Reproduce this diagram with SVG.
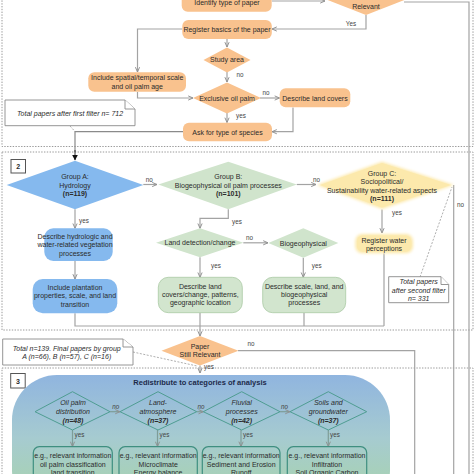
<svg xmlns="http://www.w3.org/2000/svg" width="474" height="474" viewBox="0 0 474 474">
<style>
text{font-family:"Liberation Sans",Arial,sans-serif;font-size:7px;fill:#2b2b2b;text-anchor:middle}
.lbl{font-size:6.3px;fill:#444}
.it{font-style:italic}
.b{font-weight:bold}
.sec{fill:none;stroke:#9a9a9a;stroke-width:1;stroke-dasharray:1.4 1.4}
.ln{fill:none;stroke:#a3a3a3;stroke-width:1.2}
.arr{marker-end:url(#ah)}
.org{fill:#f9c28e}
.blu{fill:#85b9ee}
.grn{fill:#d2e5ce;stroke:#a9c9a3;stroke-width:0.8}
.gd{fill:#d0e4cc}
.ylw{fill:#fce9ac}
.note{fill:#fff;stroke:#8a8a8a;stroke-width:0.9}
.dash{fill:none;stroke:#9a9a9a;stroke-width:0.8;stroke-dasharray:2 1.5}
.s3d{fill:none;stroke:#4f9d92;stroke-width:1}
.s3b{fill:none;stroke:#3f8f80;stroke-width:1.2}
</style>
<defs>
<marker id="ah" viewBox="0 0 10 10" refX="9" refY="5" markerWidth="6" markerHeight="6" markerUnits="userSpaceOnUse" orient="auto"><path d="M1,1.5 L9,5 L1,8.5" fill="none" stroke="#8f8f8f" stroke-width="1.6"/></marker>
<marker id="ahb" viewBox="0 0 10 10" refX="9" refY="5" markerWidth="6" markerHeight="6" markerUnits="userSpaceOnUse" orient="auto"><path d="M0,0 L10,5 L0,10 z" fill="#111"/></marker>
<linearGradient id="g3" x1="0" y1="0" x2="0" y2="1">
<stop offset="0" stop-color="#90b5df"/>
<stop offset="0.45" stop-color="#a6cbd0"/>
<stop offset="1" stop-color="#a8d6a2"/>
</linearGradient>
<filter id="glow" x="-20%" y="-30%" width="140%" height="160%"><feGaussianBlur stdDeviation="1.6"/></filter>
</defs>

<g id="sections">
<rect class="sec" x="2" y="-10" width="471" height="156.5"/>
<rect class="sec" x="2" y="152" width="471" height="178"/>
<rect class="sec" x="2" y="368" width="471" height="120"/>
<rect x="11" y="159.5" width="14.5" height="13.5" fill="#fff" stroke="#555" stroke-width="1"/>
<text x="18.3" y="168.6" class="b">2</text>
<rect x="10.7" y="373.5" width="14.5" height="14.5" fill="#fff" stroke="#555" stroke-width="1"/>
<text x="18" y="383.5" class="b">3</text>
</g>

<g id="section3-bg">
<rect x="12" y="375" width="378" height="140" rx="45" ry="45" fill="url(#g3)"/>
<text x="200" y="384.5" class="b" style="font-size:7.5px;fill:#1d2a4a">Redistribute to categories of analysis</text>
</g>

<g id="connectors">
<polyline class="ln arr" points="272,1 325,1"/>
<polyline class="ln" points="404,2 469,2 469,474"/>
<polyline class="ln arr" points="366,15 366,29 272,29"/>
<polyline class="ln arr" points="227,39 227,47"/>
<polyline class="ln arr" points="182,29 137.5,29 137.5,72"/>
<polyline class="ln arr" points="227,72 227,82"/>
<polyline class="ln arr" points="137.5,92 137.5,98 193,98"/>
<polyline class="ln arr" points="260,98 279.5,98"/>
<polyline class="ln arr" points="293,107.5 293,131.7 272,131.7"/>
<polyline class="ln arr" points="227,113 227,122.5"/>
<polyline class="ln" points="183,131.7 75,131.7 75,152" style="stroke:#8a8a8a"/>
<line x1="75" y1="150" x2="75" y2="160" stroke="#333" stroke-width="1" marker-end="url(#ahb)"/>
<polyline class="ln arr" points="143.3,184.5 157,184.5"/>
<polyline class="ln arr" points="296.7,184.5 316,184.5"/>
<polyline class="ln" points="453.7,185 453.7,474"/>
<polyline class="ln arr" points="75,209.3 75,228.3"/>
<polyline class="ln arr" points="382,209.5 382,233"/>
<polyline class="ln arr" points="228.3,209.3 228.3,218.3 200,218.3 200,228.3"/>
<polyline class="ln arr" points="243.3,242.8 268,242.8"/>
<polyline class="ln arr" points="75,261 75,279"/>
<polyline class="ln arr" points="200,257.3 200,277.3"/>
<polyline class="ln arr" points="303.3,257.7 303.3,277.3"/>
<polyline class="ln" points="75,313.3 75,326 384,326"/>
<polyline class="ln" points="304,312.7 304,326"/>
<polyline class="ln" points="384,253.3 384,326"/>
<polyline class="ln arr" points="200,312.7 200,336"/>
<polyline class="ln" points="238,350.7 414.7,350.7 414.7,474"/>
<polyline class="ln arr" points="200,365.5 200,373"/>
<polyline class="ln arr" points="110,411.7 120,411.7" style="stroke:#7e9c98"/>
<polyline class="ln arr" points="196.7,411.7 203.3,411.7" style="stroke:#7e9c98"/>
<polyline class="ln arr" points="280,411.7 290,411.7" style="stroke:#7e9c98"/>
<polyline class="ln arr" points="72.5,430 72.5,446.5" style="stroke:#7e9c98"/>
<polyline class="ln arr" points="157.5,430 157.5,446.5" style="stroke:#7e9c98"/>
<polyline class="ln arr" points="241,430 241,446.5" style="stroke:#7e9c98"/>
<polyline class="ln arr" points="328.3,430 328.3,446.5" style="stroke:#7e9c98"/>
<line class="dash" x1="70" y1="126" x2="75" y2="131.5"/>
<line class="dash" x1="420" y1="277" x2="452" y2="187"/>
<line class="dash" x1="133" y1="352" x2="197" y2="366"/>
<text x="351" y="25.6" class="lbl">Yes</text>
<text x="240" y="77.3" class="lbl">no</text>
<text x="266" y="94.5" class="lbl">no</text>
<text x="241" y="117.5" class="lbl">yes</text>
<text x="149.3" y="182" class="lbl">no</text>
<text x="316.5" y="182" class="lbl">no</text>
<text x="460.5" y="206.5" class="lbl">no</text>
<text x="84" y="222.5" class="lbl">yes</text>
<text x="237" y="224" class="lbl">yes</text>
<text x="397" y="215" class="lbl">yes</text>
<text x="249.5" y="239.6" class="lbl">no</text>
<text x="216" y="268" class="lbl">yes</text>
<text x="316.7" y="268" class="lbl">yes</text>
<text x="251" y="345.5" class="lbl">no</text>
<text x="209" y="368.8" class="lbl">yes</text>
<text x="115.7" y="409" class="lbl it">no</text>
<text x="201" y="409" class="lbl it">no</text>
<text x="284.5" y="409" class="lbl it">no</text>
<text x="79.5" y="436.8" class="lbl">yes</text>
<text x="164.5" y="436.8" class="lbl">yes</text>
<text x="248" y="436.8" class="lbl">yes</text>
<text x="335" y="436.8" class="lbl">yes</text>
</g>

<g id="identify">
<rect class="org" x="181.7" y="-14" width="90" height="25.7" rx="6"/>
<text x="227" y="5">Identify type of paper</text>
</g>
<g id="paper-relevant">
<polygon class="org" points="366,-35 430,-10 366,15 302,-10"/>
<text x="366" y="8.5">Relevant</text>
</g>
<g id="register-basics">
<rect class="org" x="182.3" y="20" width="89.5" height="19" rx="6"/>
<text x="227" y="32">Register basics of the paper</text>
</g>
<g id="study-area">
<polygon class="org" points="227,47.5 250.5,60 227,72.5 203.5,60"/>
<text x="227" y="62">Study area</text>
</g>
<g id="include-spatial">
<rect class="org" x="88.3" y="72.3" width="97.7" height="19.4" rx="6"/>
<text x="137.2" y="80">Include spatial/temporal scale</text>
<text x="137.2" y="88.5">and oil palm age</text>
</g>
<g id="exclusive">
<polygon class="org" points="227,82.5 261,98 227,113.5 193,98"/>
<text x="227" y="100.5">Exclusive oil palm</text>
</g>
<g id="describe-land-covers">
<rect class="org" x="279.7" y="88.3" width="70.6" height="19" rx="6"/>
<text x="315" y="100.5">Describe land covers</text>
</g>
<g id="ask-species">
<rect class="org" x="183" y="122.7" width="89" height="18.5" rx="6"/>
<text x="227.5" y="134.5">Ask for type of species</text>
</g>
<g id="note-712">
<path class="note" d="M5,100 H125 L135,109 V125.7 H5 Z"/>
<path class="note" d="M125,100 V109 H135" fill="none"/>
<text x="70" y="115.5" class="it">Total papers after first filter  n= 712</text>
</g>

<g id="group-a">
<polygon class="blu" points="75,160.7 143.3,185 75,209.3 6.7,185"/>
<text x="75" y="179">Group A:</text>
<text x="75" y="187.5">Hydrology</text>
<text x="75" y="196" class="b">(n=119)</text>
</g>
<g id="group-b">
<polygon class="gd" points="228.3,161.7 296.7,184.5 228.3,209.3 158.3,184.5"/>
<text x="228.3" y="179">Group B:</text>
<text x="228.3" y="187.5">Biogeophysical oil palm processes</text>
<text x="228.3" y="196" class="b">(n=101)</text>
</g>
<g id="group-c">
<polygon class="ylw" points="382,161.7 454,185 382,209 317,185" filter="url(#glow)"/>
<polygon class="ylw" points="382,163 451,185 382,207.5 320,185"/>
<text x="382" y="175.8">Group C:</text>
<text x="382" y="184.2">Sociopolitical/</text>
<text x="382" y="192.5">Sustainability water-related aspects</text>
<text x="382" y="200.5" class="b">(n=111)</text>
</g>
<g id="describe-hydrologic">
<rect class="blu" x="44.3" y="228.3" width="68.4" height="32.7" rx="9"/>
<text x="75" y="238.5">Describe hydrologic and</text>
<text x="75" y="247">water-related vegetation</text>
<text x="75" y="255.5">processes</text>
</g>
<g id="include-plantation">
<rect class="blu" x="32.7" y="279" width="84.6" height="34.3" rx="10"/>
<text x="75" y="289.8">Include plantation</text>
<text x="75" y="298.3">properties, scale, and land</text>
<text x="75" y="307">transition</text>
</g>
<g id="land-detection">
<polygon class="gd" points="200,228.3 243.3,242.8 200,257.3 156,242.8"/>
<text x="200" y="245.2">Land detection/change</text>
</g>
<g id="biogeophysical">
<polygon class="gd" points="303.3,228.3 338.3,243 303.3,257.7 268.3,243"/>
<text x="303.3" y="245.5">Biogeophysical</text>
</g>
<g id="describe-land-change">
<rect class="grn" x="158.3" y="277.3" width="84" height="35.4" rx="10"/>
<text x="200.3" y="288.5">Describe land</text>
<text x="200.3" y="297">covers/change, patterns,</text>
<text x="200.3" y="305.4">geographic location</text>
</g>
<g id="describe-scale">
<rect class="grn" x="262.7" y="277.3" width="83" height="35.4" rx="10"/>
<text x="304.2" y="288.5">Describe scale, land, and</text>
<text x="304.2" y="297">biogeophysical</text>
<text x="304.2" y="305.4">processes</text>
</g>
<g id="register-water">
<rect class="ylw" x="355.3" y="234" width="57.7" height="19.3" rx="7" filter="url(#glow)"/>
<rect class="ylw" x="357" y="235.5" width="54.3" height="16.3" rx="6"/>
<text x="384" y="242.5">Register water</text>
<text x="384" y="251">perceptions</text>
</g>
<g id="note-331">
<path class="note" d="M388.7,276.7 H441 L448.7,284.5 V302.7 H388.7 Z"/>
<path class="note" d="M441,276.7 V284.5 H448.7" fill="none"/>
<text x="418.7" y="284" class="it">Total papers</text>
<text x="418.7" y="292.5" class="it">after second filter</text>
<text x="418.7" y="300.8" class="it">n= 331</text>
</g>

<g id="paper-still-relevant">
<polygon class="org" points="200,336 238.5,350.7 200,365.5 161.5,350.7"/>
<text x="200" y="348.5">Paper</text>
<text x="200" y="357">Still Relevant</text>
</g>
<g id="note-139">
<path class="note" d="M2.7,339 H123 L133,347 V365 H2.7 Z"/>
<path class="note" d="M123,339 V347 H133" fill="none"/>
<text x="66.7" y="350.8" class="it">Total n=139. Final papers by group</text>
<text x="66.7" y="359.2" class="it">A (n=66), B (n=57), C (n=16)</text>
</g>

<g id="oil-palm-distribution">
<polygon class="s3d" points="72.5,391.7 110,411.7 72.5,430 35,411.7"/>
<text x="73" y="405.2" class="it">Oil palm</text>
<text x="73" y="413.8" class="it">distribution</text>
<text x="73" y="422.5" class="it b">(n=48)</text>
</g>
<g id="land-atmosphere">
<polygon class="s3d" points="158,391.7 196.7,411.7 158,430 120,411.7"/>
<text x="158" y="405.2" class="it">Land-</text>
<text x="158" y="413.8" class="it">atmosphere</text>
<text x="158" y="422.5" class="it b">(n=37)</text>
</g>
<g id="fluvial">
<polygon class="s3d" points="241.7,391.7 280,411.7 241.7,430 203.3,411.7"/>
<text x="241.7" y="405.2" class="it">Fluvial</text>
<text x="241.7" y="413.8" class="it">processes</text>
<text x="241.7" y="422.5" class="it b">(n=42)</text>
</g>
<g id="soils">
<polygon class="s3d" points="328.3,391.7 366.7,411.7 328.3,430 290,411.7"/>
<text x="328.3" y="405.2" class="it">Soils and</text>
<text x="328.3" y="413.8" class="it">groundwater</text>
<text x="328.3" y="422.5" class="it b">(n=37)</text>
</g>
<g id="box-oil-palm">
<rect class="s3b" x="33.3" y="446.7" width="79" height="40" rx="6"/>
<text x="72.8" y="458.3">e.g., relevant information</text>
<text x="72.8" y="466.6">oil palm classification</text>
<text x="72.8" y="474.9">land transition</text>
</g>
<g id="box-land-atm">
<rect class="s3b" x="119" y="446.7" width="78.3" height="40" rx="6"/>
<text x="158.2" y="458.3">e.g., relevant information</text>
<text x="158.2" y="466.6">Microclimate</text>
<text x="158.2" y="474.9">Energy balance</text>
</g>
<g id="box-fluvial">
<rect class="s3b" x="202.3" y="446.7" width="77.7" height="40" rx="6"/>
<text x="241.2" y="458.3">e.g., relevant information</text>
<text x="241.2" y="466.6">Sediment and Erosion</text>
<text x="241.2" y="474.9">Runoff</text>
</g>
<g id="box-soils">
<rect class="s3b" x="287.3" y="446.7" width="79.4" height="40" rx="6"/>
<text x="327" y="458.3">e.g., relevant information</text>
<text x="327" y="466.6">Infiltration</text>
<text x="327" y="474.9">Soil Organic Carbon</text>
</g>
</svg>
